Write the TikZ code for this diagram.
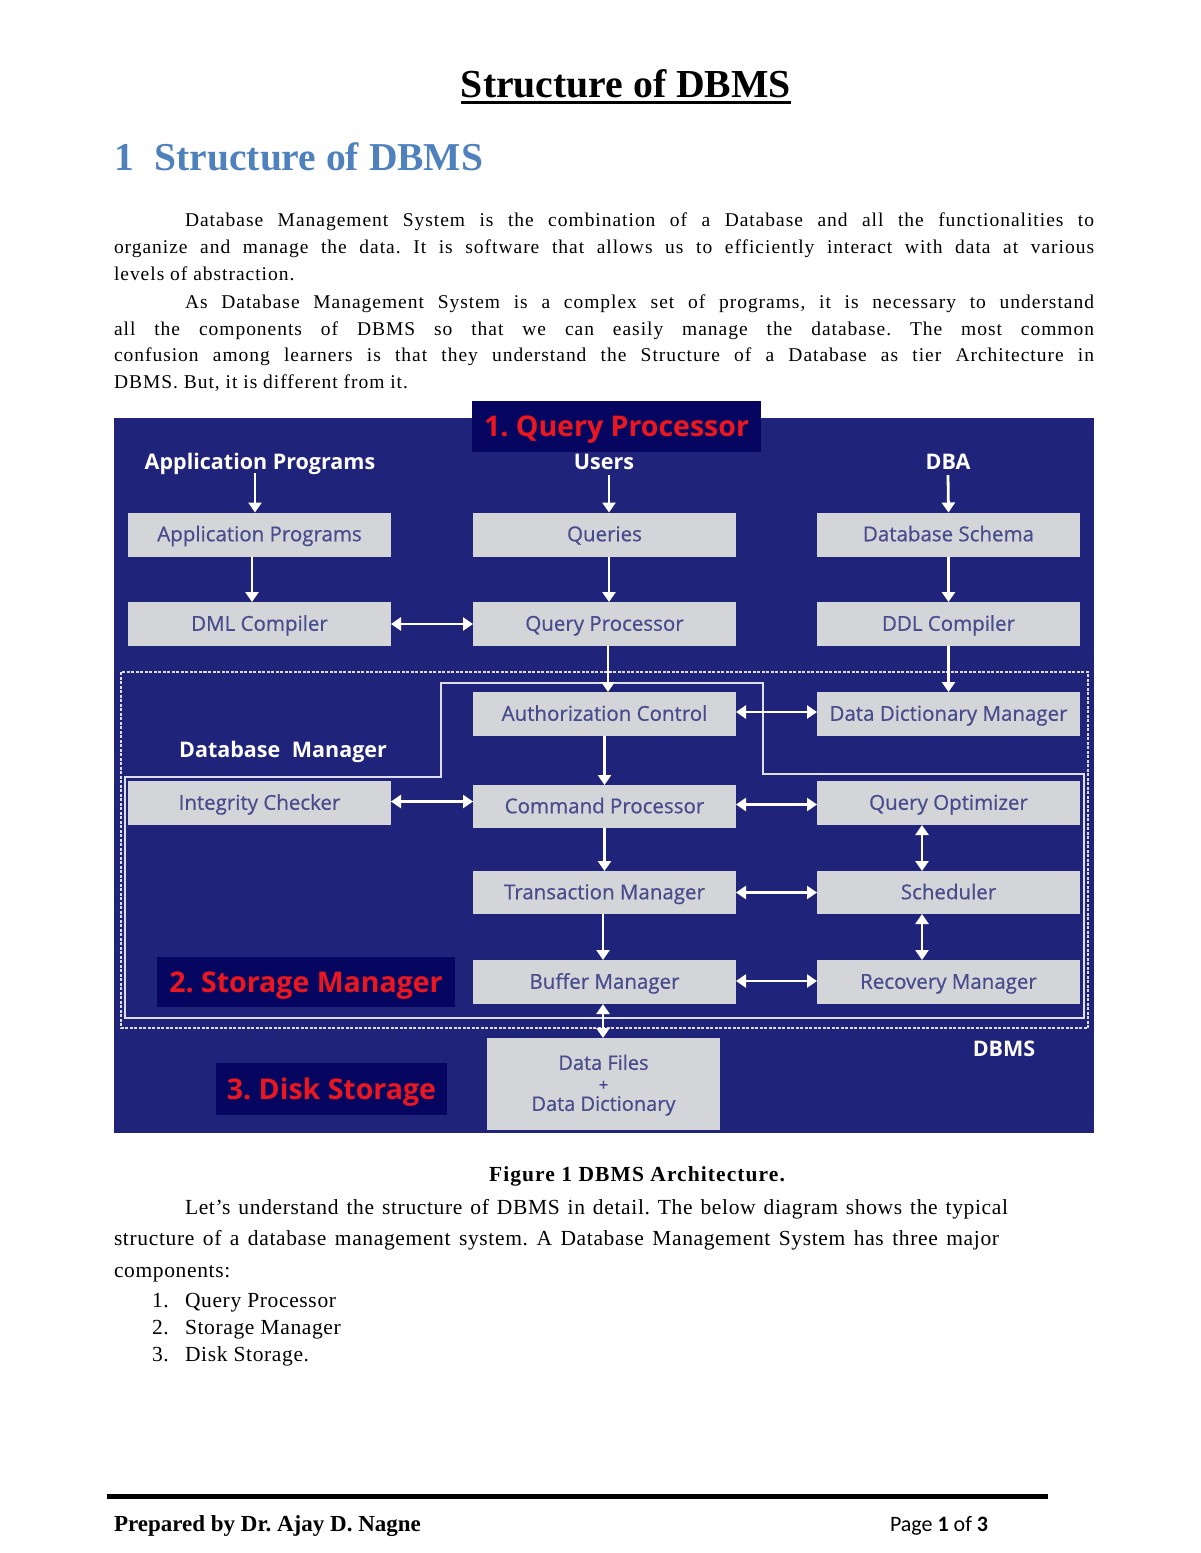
\documentclass[tikz,border=0pt]{standalone}
\usepackage{fontspec}
\setmainfont{Liberation Serif}
\newfontfamily\bodyA[LetterSpace=5]{Liberation Serif}
\newfontfamily\bodyB[LetterSpace=3]{Liberation Serif}
\newfontfamily\dgfont{Open Sans}
\newfontfamily\dgmed[FakeBold=0.6]{Open Sans}
\newfontfamily\calfont{Carlito}
\usetikzlibrary{arrows.meta}
\definecolor{navy}{RGB}{32,35,122}
\definecolor{darknavy}{RGB}{6,6,96}
\definecolor{boxgray}{RGB}{211,213,217}
\definecolor{boxtext}{RGB}{72,76,140}
\definecolor{redtxt}{RGB}{236,22,30}
\definecolor{headblue}{RGB}{79,129,189}
\frenchspacing
\begin{document}
\frenchspacing
\begin{tikzpicture}[x=1pt,y=-1pt,
  every node/.style={inner sep=0pt, outer sep=0pt},
  txt/.style={anchor=base west, font=\bodyA\fontsize{19.5}{22}\selectfont},
  txtb/.style={anchor=base west, font=\bodyB\fontsize{21.5}{24}\selectfont},
  blk/.style={fill=boxgray, text=boxtext, font=\dgmed\fontsize{20.5}{22}\selectfont, minimum width=263pt, minimum height=44pt, text height=15pt, text depth=1.5pt},
  lbl/.style={text=white, font=\dgfont\bfseries\fontsize{21.5}{24}\selectfont, text height=16pt, text depth=2pt},
  ttl/.style={fill=darknavy, text=redtxt, font=\dgfont\bfseries\fontsize{28.5}{32}\selectfont, text height=20pt, text depth=0pt},
  arr/.style={white, line width=2.8pt, -{Triangle[length=10pt,width=13pt]}},
  darr/.style={white, line width=2.8pt, {Triangle[length=10pt,width=13pt]}-{Triangle[length=10pt,width=13pt]}},
  frame/.style={white!85!navy, line width=1.4pt}]

\fill[white] (0,0) rectangle (1200,1553);
\useasboundingbox (0,0) rectangle (1200,1553);

% ---------- headings ----------
\node[anchor=base, font=\bfseries\fontsize{39.7}{42}\selectfont] (title) at (626,97) {Structure of DBMS};
\draw[line width=3pt] ([yshift=-5.5pt]title.base west) -- ([yshift=-5.5pt]title.base east);
\node[anchor=base west, text=headblue, font=\bfseries\fontsize{39.5}{42}\selectfont] (sec) at (114,170) {1\hspace{21pt}Structure of DBMS};

% ---------- paragraph ----------
\node[txt] (p1) at (185,226) {\makebox[909pt][s]{Database Management System is the combination of a Database and all the functionalities to}};
\node[txt] (p2) at (114,253) {\makebox[980pt][s]{organize and manage the data. It is software that allows us to efficiently interact with data at various}};
\node[txt] (p3) at (114,280) {levels of abstraction.};
\node[txt] (p4) at (185,308) {\makebox[909pt][s]{As Database Management System is a complex set of programs, it is necessary to understand}};
\node[txt] (p5) at (114,335) {\makebox[980pt][s]{all the components of DBMS so that we can easily manage the database. The most common}};
\node[txt] (p6) at (114,361) {\makebox[980pt][s]{confusion among learners is that they understand the Structure of a Database as tier Architecture in}};
\node[txt] (p7) at (114,388) {DBMS. But, it is different from it.};

% ---------- diagram ----------
\fill[navy] (114,418) rectangle (1094,1133);
\draw[white!85!navy, line width=1.2pt, dash pattern=on 3pt off 1.5pt] (121,672) rectangle (1088,1028);
\draw[frame] (441,683) -- (763,683) -- (763,774) -- (1084,774) -- (1084,1018) -- (125,1018) -- (125,777) -- (441,777) -- cycle;

\node[ttl, minimum width=289pt, minimum height=51pt] (tqp) at (616.5,426.5) {1. Query Processor};
\node[ttl, minimum width=298pt, minimum height=50pt] (tsm) at (306,982) {2. Storage Manager};
\node[ttl, minimum width=231pt, minimum height=52pt] (tds) at (331.5,1089) {3. Disk Storage};

\node[lbl] (lap) at (260,462) {Application Programs};
\node[lbl] (lus) at (604,462) {Users};
\node[lbl] (ldba) at (948,462) {DBA};
\node[lbl] (ldm) at (283,750) {Database\hspace{6pt} Manager};
\node[lbl] (ldbms) at (1004,1049) {DBMS};

\node[blk] (ap)   at (259.5,534.5) {Application Programs};
\node[blk] (qu)   at (604.5,534.5) {Queries};
\node[blk] (sch)  at (948.5,534.5) {Database Schema};
\node[blk] (dml)  at (259.5,624) {DML Compiler};
\node[blk] (qp)   at (604.5,624) {Query Processor};
\node[blk] (ddl)  at (948.5,624) {DDL Compiler};
\node[blk] (auth) at (604.5,714) {Authorization Control};
\node[blk] (ddm)  at (948.5,714) {Data Dictionary Manager};
\node[blk] (ic)   at (259.5,803) {Integrity Checker};
\node[blk, minimum height=43pt] (cmd)  at (604.5,806.5) {Command Processor};
\node[blk] (qo)   at (948.5,803) {Query Optimizer};
\node[blk, minimum height=43pt] (tm)   at (604.5,892.5) {Transaction Manager};
\node[blk, minimum height=43pt] (sc)   at (948.5,892.5) {Scheduler};
\node[blk] (bm)   at (604.5,982) {Buffer Manager};
\node[blk] (rm)   at (948.5,982) {Recovery Manager};
\node[blk, minimum width=233pt, minimum height=92pt, align=center, text height=, text depth=, font=\dgmed\fontsize{20}{20.5}\selectfont] (df) at (603.5,1084)
  {\\[-3pt]Data Files\\{\fontsize{16}{20.5}\selectfont +}\\Data Dictionary};

% arrows
\draw[arr] ([xshift=-5pt,yshift=-2pt]lap.south) -- ([xshift=-4.5pt]ap.north);
\draw[arr] ([xshift=5pt,yshift=-4pt]lus.south) -- ([xshift=4.5pt]qu.north);
\draw[arr] ([yshift=-4pt]ldba.south) -- (sch.north);
\draw[arr] ([xshift=-7.5pt]ap.south) -- ([xshift=-7.5pt]dml.north);
\draw[arr] ([xshift=4.5pt]qu.south) -- ([xshift=4.5pt]qp.north);
\draw[arr] (sch.south) -- (ddl.north);
\draw[arr] (ddl.south) -- (ddm.north);
\draw[arr] ([xshift=3.5pt]qp.south) -- ([xshift=3.5pt]auth.north);
\draw[arr] (auth.south) -- (cmd.north);
\draw[arr] (cmd.south) -- (tm.north);
\draw[arr] ([xshift=-1.5pt]tm.south) -- ([xshift=-1.5pt]bm.north);
\draw[darr] ([xshift=-1.5pt]bm.south) -- ([xshift=-0.5pt]df.north);

\draw[darr] (dml.east) -- (qp.west);
\draw[darr] ([yshift=2pt]auth.east) -- ([yshift=2pt]ddm.west);
\draw[darr] ([yshift=1.5pt]ic.east) -- ([yshift=1.5pt]ic.east -| cmd.west);
\draw[darr] ([yshift=2pt]cmd.east) -- ([yshift=2pt]cmd.east -| qo.west);
\draw[darr] (tm.east) -- (sc.west);
\draw[darr] ([yshift=1pt]bm.east) -- ([yshift=1pt]rm.west);
\draw[darr] ([xshift=-26.5pt]qo.south) -- ([xshift=-26.5pt]sc.north);
\draw[darr] ([xshift=-26.5pt]sc.south) -- ([xshift=-26.5pt]rm.north);

% ---------- after the figure ----------
\node[anchor=base, font=\bodyA\bfseries\fontsize{21.5}{24}\selectfont] (cap) at (637,1181) {Figure 1 DBMS Architecture.};
\node[txtb] (q1) at (185,1214) {\makebox[823pt][s]{Let’s understand the structure of DBMS in detail. The below diagram shows the typical}};
\node[txtb] (q2) at (114,1245) {\makebox[885pt][s]{structure of a database management system. A Database Management System has three major}};
\node[txtb] (q3) at (114,1277) {components:};
\node[txtb] (n1) at (152,1307) {1.};
\node[txtb] (i1) at (185,1307) {Query Processor};
\node[txtb] (n2) at (152,1334) {2.};
\node[txtb] (i2) at (185,1334) {Storage Manager};
\node[txtb] (n3) at (152,1361) {3.};
\node[txtb] (i3) at (185,1361) {Disk Storage.};

% ---------- footer ----------
\draw[line width=5pt] (107,1496) -- (1048,1496);
\node[anchor=base west, font=\bfseries\fontsize{23}{25}\selectfont] (foot) at (114,1531) {Prepared by Dr. Ajay D. Nagne};
\node[anchor=base west, font=\calfont\fontsize{22}{24}\selectfont] (page) at (890,1531) {Page \textbf{1} of \textbf{3}};
\end{tikzpicture}
\end{document}
